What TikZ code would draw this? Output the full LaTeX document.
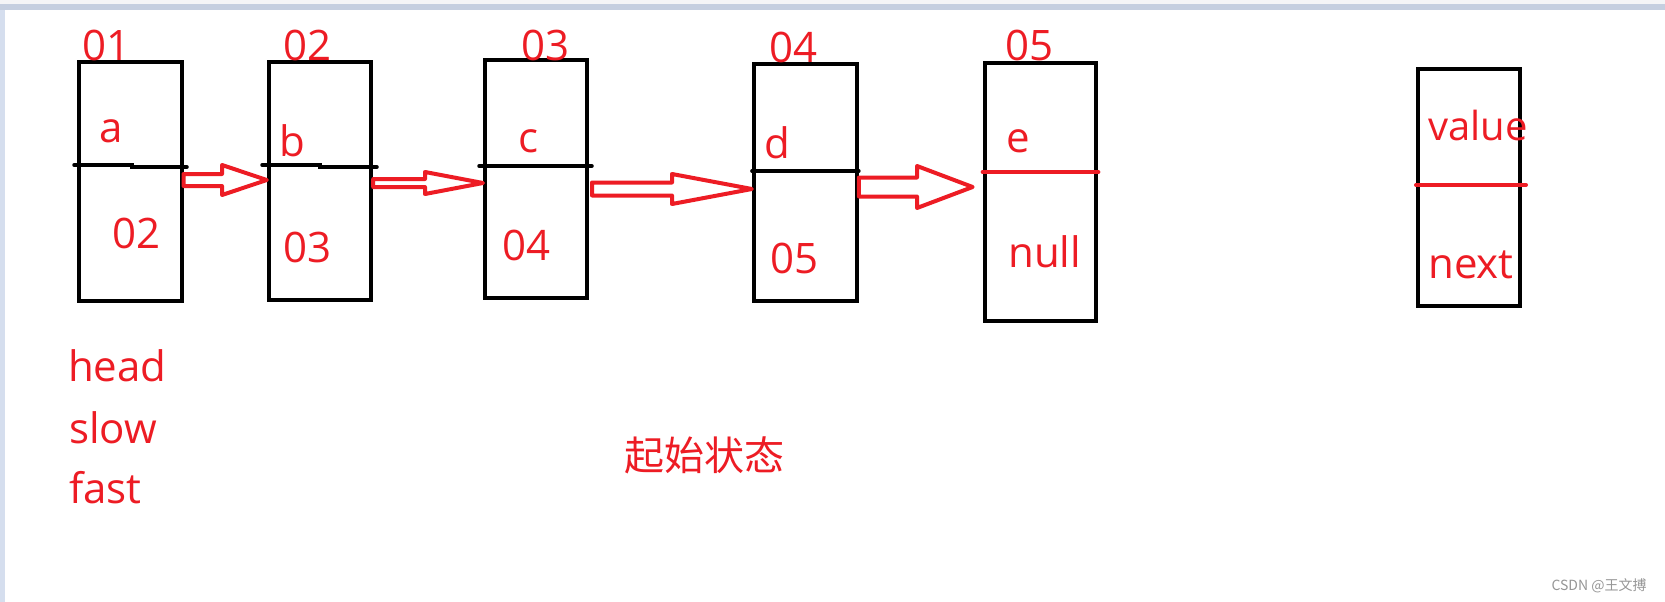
\documentclass[tikz,border=0pt]{standalone}
\usepackage{fontspec}
\setmainfont{Open Sans}
\newfontfamily\cjk{Noto Sans CJK SC}
\definecolor{pred}{RGB}{237,28,36}
\definecolor{topgray}{RGB}{244,245,247}
\definecolor{bandblue}{RGB}{197,207,224}
\definecolor{leftblue}{RGB}{213,222,238}
\definecolor{wmgray}{RGB}{150,150,150}
\newcommand\blockarrow[6]{%
  \draw[arr] (#1 |- 0,#3-#4) -- (#6,#3-#4) -- (#6,#3-#5) -- (#2 |- 0,#3)
    -- (#6,#3+#5) -- (#6,#3+#4) -- (#1 |- 0,#3+#4) -- cycle;}
\begin{document}
\begin{tikzpicture}[x=1pt,y=-1pt,
  cell/.style={draw=black,line width=4pt,inner sep=0pt},
  lbl/.style={text=pred,font=\fontsize{42}{42}\selectfont,inner sep=0pt,anchor=base west},
  arr/.style={draw=pred,line width=4pt,line join=round},
  blkdiv/.style={draw=black,line width=3.5pt,line cap=round},
  reddiv/.style={draw=pred,line width=4pt,line cap=round}]
\fill[white] (0,0) rectangle (1665,602);
\useasboundingbox (0,0) rectangle (1665,602);
\fill[topgray] (0,0) rectangle (1665,4);
\fill[bandblue] (0,4) rectangle (1665,10);
\fill[leftblue] (0,10) rectangle (5,602);

% boxes
\node[cell,minimum width=103pt,minimum height=239pt] (b1) at (130,181.5) {};
\node[cell,minimum width=102.4pt,minimum height=238pt] (b2) at (320,181) {};
\node[cell,minimum width=102.4pt,minimum height=238pt] (b3) at (536.2,179) {};
\node[cell,minimum width=103pt,minimum height=237pt] (b4) at (805.4,182.5) {};
\node[cell,minimum width=111.7pt,minimum height=258pt] (b5) at (1040.5,192) {};
\node[cell,minimum width=102pt,minimum height=237pt] (lg) at (1469,187.5) {};

% dividers
\draw[blkdiv] (74,165) -- (132,165) -- (132,167) -- (187,167);
\draw[blkdiv] (262,165) -- (320,165) -- (320,167) -- (377,167);
\draw[blkdiv] (479,166) -- (592,166);
\draw[blkdiv] (b4.west |- 0,171) -- (b4.east |- 0,171);
\draw[reddiv] (b5.west |- 0,172) -- (b5.east |- 0,172);
\draw[reddiv] (lg.west |- 0,185) -- ([xshift=4pt]lg.east |- 0,185);

% arrows
\blockarrow{b1.east}{b2.west}{180}{6}{15}{222}
\blockarrow{b2.east}{b3.west}{183}{4}{11}{425}
\coordinate (a3s) at (592,189);
\blockarrow{a3s}{b4.west}{189}{6.5}{15}{672}
\coordinate (a4e) at ([xshift=-10pt]b5.west);
\fill[pred] (b4.east |- 0,177) rectangle (861,197);
\blockarrow{b4.east}{a4e}{187}{9.5}{21}{917}

% address labels
\node[lbl] (l1) at (82,60) {01};
\node[lbl] (l2) at (283,60) {02};
\node[lbl] (l3) at (521,60) {03};
\node[lbl] (l4) at (769,63) {04};
\node[lbl] (l5) at (1005,60) {05};

% values
\node[lbl] (va) at (99,142) {a};
\node[lbl] (vb) at (279,156) {b};
\node[lbl] (vc) at (518,152) {c};
\node[lbl] (vd) at (764,158) {d};
\node[lbl] (ve) at (1006,152) {e};

% next pointers
\node[lbl] (n1) at (112,248) {02};
\node[lbl] (n2) at (283,262) {03};
\node[lbl] (n3) at (502,260) {04};
\node[lbl] (n4) at (770,273) {05};
\node[lbl] (n5) at (1008,267) {null};

% legend
\node[lbl,font=\fontsize{40}{40}\selectfont] (lv) at (1428,140) {value};
\node[lbl] (ln) at (1428,278) {next};

% pointers
\node[lbl] (th) at (68,381) {head};
\node[lbl] (ts) at (69,443) {slow};
\node[lbl] (tf) at (69,503) {fast};

\node[text=pred,font=\cjk\fontsize{40}{40}\selectfont,inner sep=0pt] (st) at (704,455) {起始状态};

\node[text=wmgray,font=\cjk\fontsize{14}{14}\selectfont,inner sep=0pt] (wm) at (1599,586) {CSDN @王文搏};
\end{tikzpicture}
\end{document}
